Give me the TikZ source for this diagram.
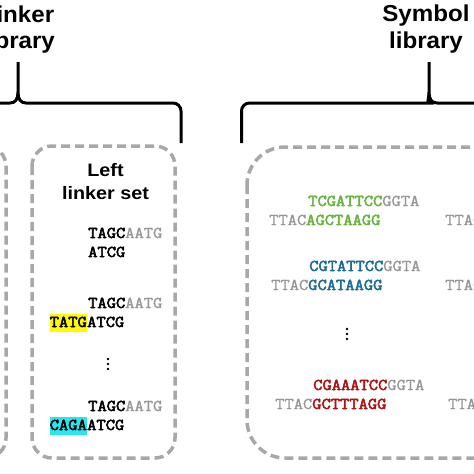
\documentclass[tikz,border=0pt]{standalone}
\usepackage{fontspec}
\setsansfont{Liberation Sans}
\newfontfamily\dnabf{Latin Modern Mono}[FakeBold=3]
\newfontfamily\dnamd{Latin Modern Mono}[FakeBold=1.5]
\usepackage{xcolor}
\definecolor{boxgray}{RGB}{168,168,168}
\definecolor{seqgray}{RGB}{150,150,150}
\definecolor{seqgreen}{RGB}{104,180,64}
\definecolor{seqblue}{RGB}{28,110,150}
\definecolor{seqred}{RGB}{172,20,20}
\definecolor{hlyellow}{RGB}{255,250,0}
\definecolor{hlcyan}{RGB}{40,230,240}
\newcommand{\gr}[1]{\textcolor{seqgray}{\dnamd #1}}

\begin{document}
\begin{tikzpicture}[x=1pt,y=-1pt,line cap=butt,
  brace/.style={line width=3pt},
  setbox/.style={draw=boxgray,line width=3.5pt,dash pattern=on 9pt off 5pt},
  head/.style={font=\sffamily\bfseries\fontsize{23}{26}\selectfont,inner sep=0,anchor=base,xscale=1.05},
  sethead/.style={font=\sffamily\bfseries\fontsize{18}{21}\selectfont,inner sep=0,anchor=base,xscale=1.1},
  dna/.style={font=\dnabf\fontsize{16.5}{18}\selectfont,inner sep=0,anchor=base west,xscale=1.09},
  tag/.style={dna,text height=13pt,text depth=5pt}]
\useasboundingbox (0,0) rectangle (474,474);
\begin{scope}
\clip (0,0) rectangle (474,474);
% braces
\draw[brace] (-3,103) -- (10,103) .. controls (15.5,103) and (18,99) .. (18,92) -- (18,62)
  (18,92) .. controls (18,99) and (20.5,103) .. (26,103) [rounded corners=8pt] -- (181,103) -- (181,143);
\draw[brace] (241.5,143) [rounded corners=8pt] -- (241.5,103) -- (421,103) [sharp corners]
  .. controls (426.5,103) and (429,99) .. (429,92) -- (429,62)
  (429,92) .. controls (429,99) and (431.5,103) .. (437,103) -- (478,103);
% sets
\draw[setbox,rounded corners=20pt] (-150,146) rectangle (6,458);
\draw[setbox,rounded corners=20pt] (32,146) rectangle (175,458);
\draw[setbox,rounded corners=38pt] (247,147) rectangle (560,458);
% headers
\node[head] (linkerhead) at (18,22) {Linker};
\node[head] (linkerlib) at (18,48) {library};
\node[head] (symbolhead) at (426,21) {Symbol};
\node[head] (symbollib) at (426,48) {library};
\node[sethead] (lefthead) at (105.5,176.5) {Left};
\node[sethead] (leftsub) at (105.5,199) {linker set};
% left linkers
\node[dna] (l1top) at (88,238) {TAGC\gr{AATG}};
\node[dna] (l1bot) at (88,257) {ATCG};
\node[dna] (l2top) at (88,308) {TAGC\gr{AATG}};
\node[tag,fill=hlyellow] (l2tag) at (49.5,327) {TATG};
\node[dna] (l2bot) at (l2tag.base east) {ATCG};
\foreach \y in {359,364,369} \fill (108,\y) circle (1.3);
\node[dna] (l3top) at (88,411) {TAGC\gr{AATG}};
\node[tag,fill=hlcyan] (l3tag) at (49.5,430) {CAGA};
\node[dna] (l3bot) at (l3tag.base east) {ATCG};
% symbols
\node[dna] (s1top) at (308,206) {\textcolor{seqgreen}{TCGATTCC}\gr{GGTA}};
\node[dna] (s1bot) at (269,225) {\gr{TTAC}\textcolor{seqgreen}{AGCTAAGG}};
\node[dna] (s2top) at (309,271) {\textcolor{seqblue}{CGTATTCC}\gr{GGTA}};
\node[dna] (s2bot) at (271,290) {\gr{TTAC}\textcolor{seqblue}{GCATAAGG}};
\foreach \y in {329,334,339} \fill (347,\y) circle (1.3);
\node[dna] (s3top) at (313,390) {\textcolor{seqred}{CGAAATCC}\gr{GGTA}};
\node[dna] (s3bot) at (275,409) {\gr{TTAC}\textcolor{seqred}{GCTTTAGG}};
\node[dna] (s1next) at (445,225) {\gr{TTAC}};
\node[dna] (s2next) at (445,290) {\gr{TTAC}};
\node[dna] (s3next) at (448,409) {\gr{TTAC}};
\end{scope}
\end{tikzpicture}
\end{document}
